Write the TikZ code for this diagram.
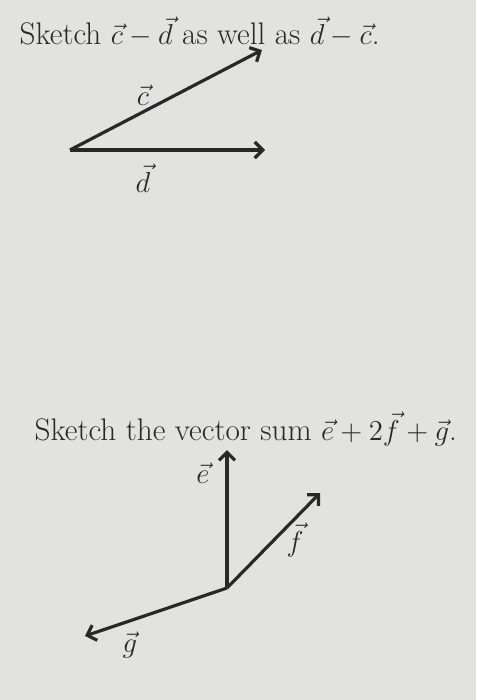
\documentclass[tikz,border=0pt]{standalone}
\usepackage{tikz}
\usetikzlibrary{arrows.meta}
\definecolor{paper}{RGB}{226,226,223}
\definecolor{ink}{RGB}{40,40,40}

\begin{document}
\begin{tikzpicture}[x=0.5pt,y=-0.5pt,>={Straight Barb[length=4pt,width=8pt]},line width=1.6pt,draw=ink,
  every node/.style={text=ink,font=\fontsize{15.6}{18}\selectfont,inner sep=0pt}]
  \fill[paper] (0,0) rectangle (476,700);
  \useasboundingbox (0,0) rectangle (476,700);
  % first question
  \node[anchor=base west] (Q1) at (18,45) {Sketch $\vec{c}-\vec{d}$ as well as $\vec{d}-\vec{c}$.};
  \coordinate (O1) at (70,150);
  \coordinate (C) at (262,50);
  \coordinate (D) at (265,150);
  \node (cl) at (143,95) {$\vec{c}$};
  \node (dl) at (143,178) {$\vec{d}$};
  \path (O1) edge[->] (C);
  \path (O1) edge[->] (D);
  % second question
  \node[anchor=base west] (Q2) at (33,440) {Sketch the vector sum $\vec{e}+2\vec{f}+\vec{g}$.};
  \coordinate (O2) at (227,588);
  \coordinate (E) at (227,450);
  \coordinate (F) at (320,493);
  \coordinate (G) at (85,636);
  \node (el) at (203,473) {$\vec{e}$};
  \node (fl) at (295,540) {$\vec{f}$};
  \node (gl) at (130,645) {$\vec{g}$};
  \path (O2) edge[->] (E);
  \path (O2) edge[->] (F);
  \path (O2) edge[->] (G);
\end{tikzpicture}
\end{document}
